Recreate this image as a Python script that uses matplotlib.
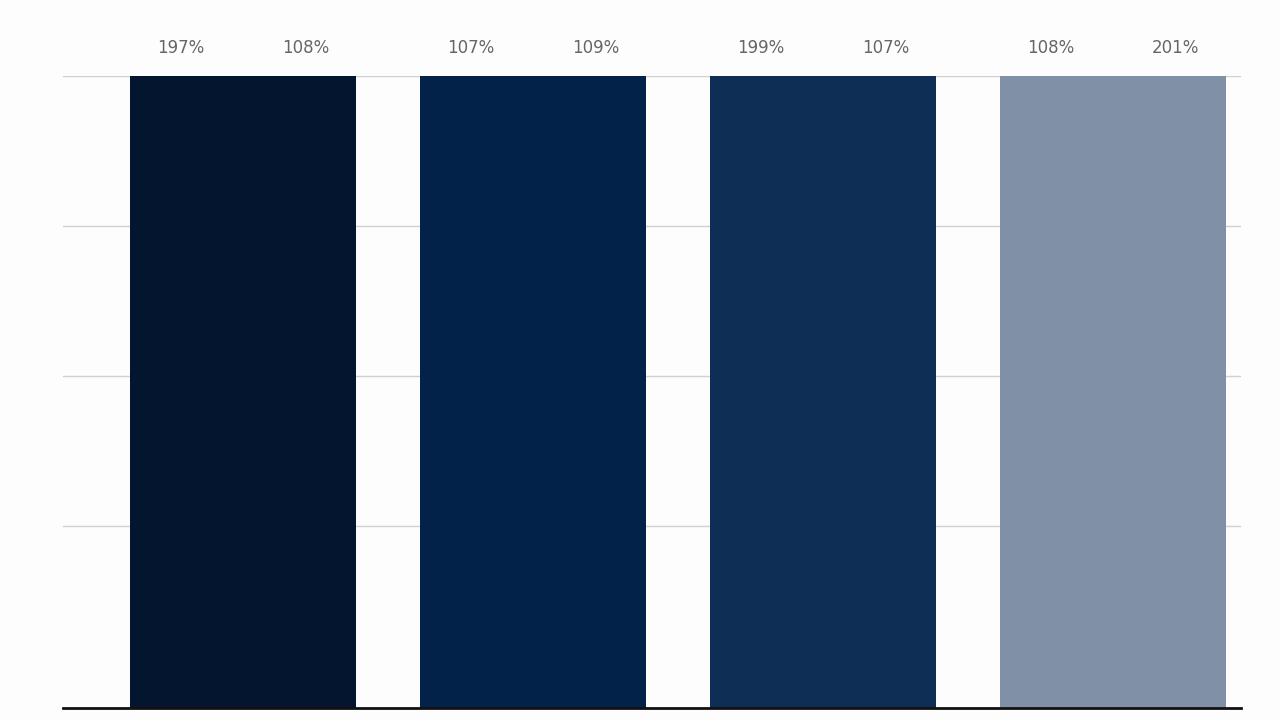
import matplotlib
matplotlib.use("Agg")
import matplotlib.pyplot as plt

categories = ["A", "B", "C", "D"]
values = [100, 100, 100, 100]
left_labels = ["197%", "107%", "199%", "108%"]
right_labels = ["108%", "109%", "107%", "201%"]
colors = ["#03152f", "#032249", "#0f2e56", "#8090a6"]

fig = plt.figure(figsize=(12.8, 7.2), dpi=100)
fig.patch.set_facecolor("#fdfdfd")
ax = fig.add_axes([63/1280, 12/720, (1241-63)/1280, (708-76)/720])
ax.set_facecolor("#fdfdfd")
x = list(range(len(categories)))
ax.bar(x, values, width=0.78, color=colors, zorder=2)
ax.set_xlim(-0.62, 3.44)
ax.set_ylim(0, 100)
step = 150/632*100
ax.set_yticks([100 - k*step for k in range(4)])
ax.grid(axis="y", color="#d0d0d0", linewidth=1, zorder=0)
ax.set_xticks([])
ax.tick_params(axis="y", length=0, labelleft=False)
for s in ["top", "left", "right"]:
    ax.spines[s].set_visible(False)
ax.spines["bottom"].set_linewidth(2)
ax.spines["bottom"].set_color("#111111")
for xi, v, l, r in zip(x, values, left_labels, right_labels):
    ax.text(xi - 0.215, v + 3, l, ha="center", va="bottom", fontsize=12, color="#666666")
    ax.text(xi + 0.215, v + 3, r, ha="center", va="bottom", fontsize=12, color="#666666")
fig.savefig("out.png", dpi=100, facecolor=fig.get_facecolor())
